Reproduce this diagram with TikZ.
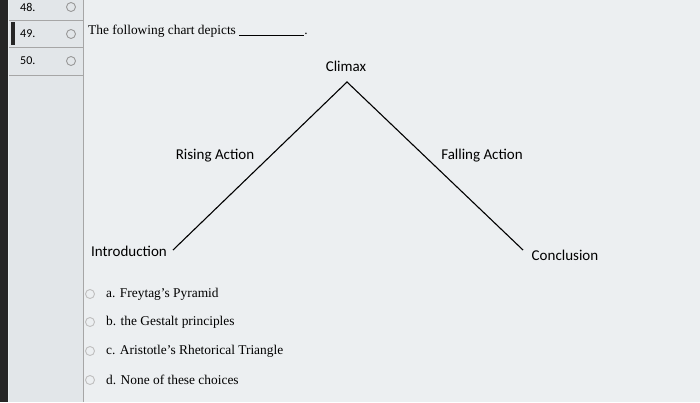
\documentclass[tikz,border=0pt]{standalone}
\usepackage{fontspec}
\setmainfont{Liberation Serif}
\newfontfamily\lab{Carlito}
\definecolor{bg}{RGB}{236,239,241}
\definecolor{side}{RGB}{226,230,233}
\begin{document}
\begin{tikzpicture}[x=1pt,y=-1pt,
  lbl/.style={font=\lab\fontsize{15}{17}\selectfont,inner sep=0pt},
  opt/.style={font=\fontsize{13.4}{15}\selectfont,anchor=west,inner sep=0pt},
  num/.style={font=\lab\fontsize{12}{14}\selectfont,anchor=west,inner sep=0pt},
  rad/.style={draw=gray!80,line width=0.9pt,circle,minimum size=9pt,inner sep=0pt},
  ln/.style={line width=1.1pt,black}]
\fill[bg] (0,0) rectangle (700,402);
\useasboundingbox (0,0) rectangle (700,402);
\fill[black!85] (0,0) rectangle (8,402);
\fill[side] (9,0) rectangle (83,402);
\draw[gray!70] (83,0) -- (83,402);
\draw[gray!70] (9,20) -- (83,20) (9,47) -- (83,47) (9,75) -- (83,75);
\fill[black!85] (11,22) rectangle (15,45);
\node[num] (n48) at (20,7) {48.};
\node[num] (n49) at (20,34) {49.};
\node[num] (n50) at (20,61) {50.};
\node[rad] (r48) at (71,7) {};
\node[rad] (r49) at (71,34) {};
\node[rad] (r50) at (71,61) {};
\node[opt] (q) at (88,31) {The following chart depicts \rule[-1pt]{65pt}{0.5pt}.};
\coordinate (apex) at (347,82);
\coordinate (left) at (173,250);
\coordinate (right) at (523,250);
\draw[ln] (left) -- (apex) -- (right);
\node[lbl] (climax) at (346,66) {Climax};
\node[lbl] (rise) at (215,156) {Rising Action};
\node[lbl] (fall) at (482,156) {Falling Action};
\node[lbl] (intro) at (129,251) {Introduction};
\node[lbl] (concl) at (565,255) {Conclusion};
\foreach \y/\t [count=\i] in {294/a. Freytag's Pyramid,322/b. the Gestalt principles,351/c. Aristotle's Rhetorical Triangle,380/d. None of these choices}{
  \node[rad,draw=gray!50] (c\i) at (90,\y) {};
  \node[opt] (o\i) at (106,\y) {\t};
}
\end{tikzpicture}
\end{document}
